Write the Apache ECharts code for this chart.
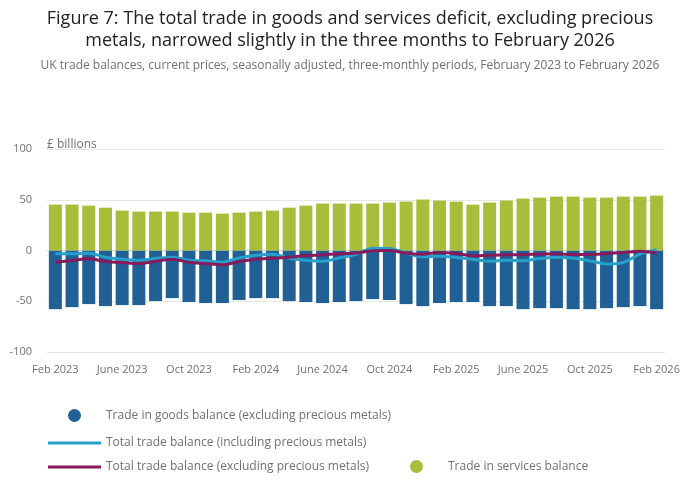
<!DOCTYPE html>
<html>
<head>
<meta charset="utf-8">
<script src="https://cdn.jsdelivr.net/npm/echarts@6/dist/echarts.min.js"></script>
<style>
  html, body { margin: 0; padding: 0; background: #fff; }
  #chart { width: 700px; height: 502px; }
</style>
</head>
<body>
<div id="chart"></div>
<script>
// three-monthly periods, Feb 2023 to Feb 2026
var periods = [
    'Feb 2023', 'Mar 2023', 'Apr 2023', 'May 2023', 'June 2023', 'July 2023', 'Aug 2023', 'Sept 2023',
    'Oct 2023', 'Nov 2023', 'Dec 2023', 'Jan 2024', 'Feb 2024', 'Mar 2024', 'Apr 2024', 'May 2024',
    'June 2024', 'July 2024', 'Aug 2024', 'Sept 2024', 'Oct 2024', 'Nov 2024', 'Dec 2024', 'Jan 2025',
    'Feb 2025', 'Mar 2025', 'Apr 2025', 'May 2025', 'June 2025', 'July 2025', 'Aug 2025', 'Sept 2025',
    'Oct 2025', 'Nov 2025', 'Dec 2025', 'Jan 2026', 'Feb 2026'
];

// £ billions
var goodsBalance = [
    -57.8, -55.8, -52.8, -54.8, -53.8, -53.8, -49.8, -46.9, -50.8, -51.8, -51.8, -48.8, -46.9,
    -46.9, -49.8, -50.8, -51.8, -50.8, -49.8, -47.9, -48.8, -52.8, -54.8, -51.8, -50.8, -50.8,
    -54.8, -54.8, -57.8, -56.8, -56.8, -57.8, -57.8, -56.8, -55.8, -54.8, -57.8
];
var servicesBalance = [
    45.2, 45.2, 44.2, 42.2, 39.3, 38.3, 38.3, 38.3, 37.3, 37.3, 36.3, 37.3, 38.3,
    39.3, 42.2, 44.2, 46.2, 46.2, 46.2, 46.2, 47.2, 48.2, 50.2, 49.2, 48.2, 45.2,
    47.2, 49.2, 51.2, 52.1, 53.1, 53.1, 52.1, 52.1, 53.1, 53.1, 54.1
];
var totalInclMetals = [
    -3.3, -3.3, -2.6, -6.6, -8.6, -9.6, -7.9, -6.6, -9.6, -10.2, -11.6, -7.3, -4.6,
    -3.6, -7.6, -9.6, -10.6, -7.3, -3.8, 2.3, 2.0, -2.6, -6.3, -5.6, -6.9, -8.6,
    -10.6, -9.6, -10.2, -7.9, -6.6, -7.3, -10.2, -13.2, -11.9, -3.6, 0.7
];
var totalExclMetals = [
    -11.6, -9.9, -7.9, -10.9, -11.9, -12.9, -10.6, -8.6, -11.6, -12.9, -14.2, -10.9, -8.6,
    -7.6, -6.6, -5.0, -4.3, -3.3, -2.4, -0.3, 0.0, -2.6, -3.6, -2.0, -3.0, -5.3,
    -4.6, -4.3, -4.0, -3.6, -3.3, -4.0, -4.0, -3.0, -2.0, -0.7, -2.3
];
var yTicks = { min: -100, max: 100, step: 50 };

var names = {
    goods: 'Trade in goods balance (excluding precious metals)',
    incl: 'Total trade balance (including precious metals)',
    excl: 'Total trade balance (excluding precious metals)',
    services: 'Trade in services balance'
};

var grey = '#707070';
var font = '"Open Sans", "Noto Sans", sans-serif';

var myChart = echarts.init(document.getElementById('chart'));

function legendText(gap) {
    return { color: grey, fontSize: 12, fontFamily: font, padding: [0, 0, 0, gap] };
}

var option = {
    animation: false,
    textStyle: { fontFamily: font },
    title: [
        {
            text: 'Figure 7: The total trade in goods and services deficit, excluding precious\nmetals, narrowed slightly in the three months to February 2026',
            left: 'center',
            top: 3,
            textStyle: { color: '#222222', fontSize: 18, fontWeight: 'normal', fontFamily: font, lineHeight: 22 }
        },
        {
            text: 'UK trade balances, current prices, seasonally adjusted, three-monthly periods, February 2023 to February 2026',
            left: 'center',
            top: 55,
            textStyle: { color: grey, fontSize: 12, fontWeight: 'normal', fontFamily: font }
        }
    ],
    legend: [
        { data: [names.goods], left: 68, top: 409, padding: 0, icon: 'circle', itemWidth: 13, itemHeight: 13,
          textStyle: legendText(20), selectedMode: false },
        { data: [names.incl], left: 48, top: 437, padding: 0, icon: 'rect', itemWidth: 53, itemHeight: 3,
          textStyle: legendText(0), selectedMode: false },
        { data: [names.excl], left: 48, top: 461, padding: 0, icon: 'rect', itemWidth: 53, itemHeight: 3,
          textStyle: legendText(0), selectedMode: false },
        { data: [names.services], left: 410, top: 460, padding: 0, icon: 'circle', itemWidth: 13, itemHeight: 13,
          textStyle: legendText(20), selectedMode: false }
    ],
    grid: { left: 47, right: 35, top: 149, bottom: 150 },
    xAxis: {
        type: 'category',
        data: periods,
        axisLine: { lineStyle: { color: '#ccd6eb' } },
        axisTick: { alignWithLabel: true, interval: 3, length: 10, lineStyle: { color: '#ccd6eb' } },
        axisLabel: { interval: 3, color: grey, fontSize: 11, margin: 12 }
    },
    yAxis: {
        type: 'value',
        min: yTicks.min,
        max: yTicks.max,
        interval: yTicks.step,
        name: '£ billions',
        nameLocation: 'end',
        nameGap: 4,
        nameTextStyle: { color: grey, fontSize: 12, align: 'left', verticalAlign: 'middle' },
        axisLine: { show: false },
        axisTick: { show: false },
        axisLabel: { color: grey, fontSize: 11, margin: 15 },
        splitLine: { lineStyle: { color: '#e6e6e6' } }
    },
    series: [
        {
            name: names.goods,
            type: 'bar',
            stack: 'balance',
            barWidth: 13,
            itemStyle: { color: '#206095' },
            data: goodsBalance
        },
        {
            name: names.services,
            type: 'bar',
            stack: 'balance',
            barWidth: 13,
            itemStyle: { color: '#a8bd3a' },
            data: servicesBalance
        },
        {
            name: names.incl,
            type: 'line',
            smooth: 0.3,
            showSymbol: false,
            lineStyle: { color: '#27a0cc', width: 3 },
            itemStyle: { color: '#27a0cc' },
            data: totalInclMetals
        },
        {
            name: names.excl,
            type: 'line',
            smooth: 0.3,
            showSymbol: false,
            lineStyle: { color: '#871a5b', width: 3 },
            itemStyle: { color: '#871a5b' },
            data: totalExclMetals
        }
    ]
};

if (option && typeof option === "object") {
    myChart.setOption(option, true);
}
</script>
</body>
</html>
